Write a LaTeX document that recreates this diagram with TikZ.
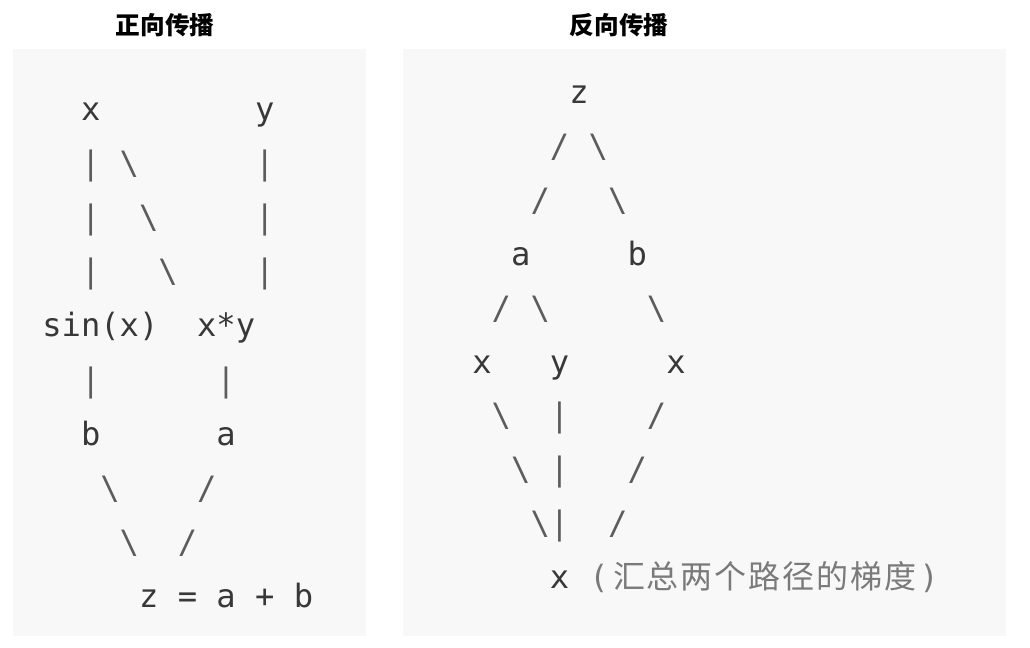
\documentclass[tikz,border=0pt]{standalone}
\usepackage{fontspec}
\newfontfamily\mono{DejaVu Sans Mono}
\newfontfamily\cjk{Noto Sans CJK SC}
\definecolor{panelbg}{HTML}{F8F8F8}
\definecolor{letter}{HTML}{383838}
\definecolor{stroke}{HTML}{5C5C5C}
\definecolor{note}{HTML}{7A7A7A}
\tikzset{
  panel/.style={fill=panelbg, draw=none},
  title/.style={font=\cjk\bfseries\fontsize{18.5}{20}\selectfont, text=black, inner sep=0pt},
  ch/.style={font=\mono\fontsize{24.1}{26}\selectfont, text=letter, inner sep=0pt, anchor=base},
  sl/.style={ch, text=stroke},
  cj/.style={font=\cjk\fontsize{24}{26}\selectfont, text=note, inner sep=0pt, anchor=base},
}
\newcommand{\bs}{\textbackslash}
\begin{document}
\begin{tikzpicture}[x=0.75pt,y=-0.75pt]
\useasboundingbox (0,0) rectangle (1030,648);
\fill[white] (0,0) rectangle (1030,648);
% panels
\fill[panel] (13,49) rectangle (366,636);
\fill[panel] (403,49) rectangle (1006,636);
% titles
\node[title] (t1) at (165,25) {正向传播};
\node[title] (t2) at (619,25) {反向传播};

% ---------- left: forward ----------
\def\L#1{52+19.35*#1}
\def\LR#1{120.5+54.1*#1}
\node[ch] (fx)  at ({\L{2}},{\LR{0}}) {x};
\node[ch] (fy)  at ({\L{11}},{\LR{0}}) {y};
\node[sl] (f1a) at ({\L{2}},{\LR{1}}) {|};
\node[sl] (f1b) at ({\L{4}},{\LR{1}}) {\bs};
\node[sl] (f1c) at ({\L{11}},{\LR{1}}) {|};
\node[sl] (f2a) at ({\L{2}},{\LR{2}}) {|};
\node[sl] (f2b) at ({\L{5}},{\LR{2}}) {\bs};
\node[sl] (f2c) at ({\L{11}},{\LR{2}}) {|};
\node[sl] (f3a) at ({\L{2}},{\LR{3}}) {|};
\node[sl] (f3b) at ({\L{6}},{\LR{3}}) {\bs};
\node[sl] (f3c) at ({\L{11}},{\LR{3}}) {|};
\node[ch] (fsin) at ({\L{2.5}},{\LR{4}}) {sin(x)};
\node[ch] (fxy)  at ({\L{9}},{\LR{4}}) {x*y};
\node[sl] (f5a) at ({\L{2}},{\LR{5}}) {|};
\node[sl] (f5b) at ({\L{9}},{\LR{5}}) {|};
\node[ch] (fb)  at ({\L{2}},{\LR{6}}) {b};
\node[ch] (fa)  at ({\L{9}},{\LR{6}}) {a};
\node[sl] (f7a) at ({\L{3}},{\LR{7}}) {\bs};
\node[sl] (f7b) at ({\L{8}},{\LR{7}}) {/};
\node[sl] (f8a) at ({\L{4}},{\LR{8}}) {\bs};
\node[sl] (f8b) at ({\L{7}},{\LR{8}}) {/};
\node[ch] (fz)  at ({\L{9}},{\LR{9}}) {z = a + b};

% ---------- right: backward ----------
\def\R#1{482+19.4*#1}
\def\RR#1{103.5+53.9*#1}
\node[ch] (bz)  at ({\R{5}},{\RR{0}}) {z};
\node[sl] (b1a) at ({\R{4}},{\RR{1}}) {/};
\node[sl] (b1b) at ({\R{6}},{\RR{1}}) {\bs};
\node[sl] (b2a) at ({\R{3}},{\RR{2}}) {/};
\node[sl] (b2b) at ({\R{7}},{\RR{2}}) {\bs};
\node[ch] (ba)  at ({\R{2}},{\RR{3}}) {a};
\node[ch] (bb)  at ({\R{8}},{\RR{3}}) {b};
\node[sl] (b4a) at ({\R{1}},{\RR{4}}) {/};
\node[sl] (b4b) at ({\R{3}},{\RR{4}}) {\bs};
\node[sl] (b4c) at ({\R{9}},{\RR{4}}) {\bs};
\node[ch] (bx1) at ({\R{0}},{\RR{5}}) {x};
\node[ch] (by)  at ({\R{4}},{\RR{5}}) {y};
\node[ch] (bx2) at ({\R{10}},{\RR{5}}) {x};
\node[sl] (b6a) at ({\R{1}},{\RR{6}}) {\bs};
\node[sl] (b6b) at ({\R{4}},{\RR{6}}) {|};
\node[sl] (b6c) at ({\R{9}},{\RR{6}}) {/};
\node[sl] (b7a) at ({\R{2}},{\RR{7}}) {\bs};
\node[sl] (b7b) at ({\R{4}},{\RR{7}}) {|};
\node[sl] (b7c) at ({\R{8}},{\RR{7}}) {/};
\node[sl] (b8a) at ({\R{3}},{\RR{8}}) {\bs};
\node[sl] (b8b) at ({\R{4}},{\RR{8}}) {|};
\node[sl] (b8c) at ({\R{7}},{\RR{8}}) {/};
\node[ch] (bx)  at ({\R{4}},{\RR{9}}) {x};
\def\C#1{629+33.9*#1}
\node[ch, text=note] (bpl) at (599,{\RR{9}}) {(};
\node[cj] (c1) at ({\C{0}},{\RR{9}}) {汇};
\node[cj] (c2) at ({\C{1}},{\RR{9}}) {总};
\node[cj] (c3) at ({\C{2}},{\RR{9}}) {两};
\node[cj] (c4) at ({\C{3}},{\RR{9}}) {个};
\node[cj] (c5) at ({\C{4}},{\RR{9}}) {路};
\node[cj] (c6) at ({\C{5}},{\RR{9}}) {径};
\node[cj] (c7) at ({\C{6}},{\RR{9}}) {的};
\node[cj] (c8) at ({\C{7}},{\RR{9}}) {梯};
\node[cj] (c9) at ({\C{8}},{\RR{9}}) {度};
\node[ch, text=note] (bpr) at (929,{\RR{9}}) {)};
\end{tikzpicture}
\end{document}
